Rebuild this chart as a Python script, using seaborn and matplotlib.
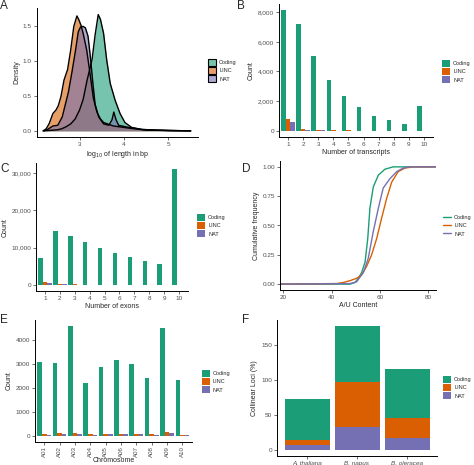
import matplotlib
matplotlib.use('Agg')
import matplotlib.pyplot as plt
import seaborn as sns
import pandas as pd
from matplotlib.patches import Patch
from matplotlib.lines import Line2D
from matplotlib.colors import to_rgba
from matplotlib.ticker import FuncFormatter

tipos = ['Coding', 'LINC', 'NAT']
cores = {'Coding': '#1B9E77', 'LINC': '#D95F02', 'NAT': '#7570B3'}

# A - densidade do comprimento (log10 bp)
coding_x = [2.18, 2.3, 2.5, 2.6, 2.7, 2.8, 2.9, 3.0, 3.08, 3.17, 3.28, 3.35, 3.42, 3.47,
            3.54, 3.61, 3.69, 3.8, 3.91, 4.02, 4.17, 4.4, 4.7, 5.0, 5.5]
coding_d = [0.0, 0.005, 0.015, 0.03, 0.06, 0.1, 0.17, 0.3, 0.45, 0.73, 1.02, 1.38, 1.67, 1.6,
            1.4, 1.02, 0.68, 0.44, 0.25, 0.12, 0.05, 0.02, 0.01, 0.005, 0.0]
linc_x = [2.18, 2.25, 2.32, 2.4, 2.47, 2.52, 2.58, 2.65, 2.73, 2.8, 2.87, 2.94, 2.98, 3.03,
          3.08, 3.16, 3.24, 3.31, 3.39, 3.47, 3.54, 3.76, 4.1, 4.5, 5.0, 5.5]
linc_d = [0.0, 0.03, 0.11, 0.25, 0.3, 0.36, 0.49, 0.73, 0.88, 1.16, 1.5, 1.65, 1.6, 1.52,
          1.4, 1.16, 0.8, 0.47, 0.27, 0.17, 0.12, 0.07, 0.04, 0.01, 0.005, 0.0]
nat_x = [2.2, 2.28, 2.4, 2.51, 2.61, 2.75, 2.83, 2.91, 2.97, 3.02, 3.08, 3.13, 3.19, 3.24,
         3.3, 3.35, 3.43, 3.54, 3.66, 3.73, 3.77, 3.82, 3.88, 4.1, 4.4, 5.0, 5.5]
nat_d = [0.0, 0.02, 0.07, 0.08, 0.2, 0.56, 0.85, 1.16, 1.42, 1.49, 1.5, 1.48, 1.36, 1.08,
         0.68, 0.38, 0.2, 0.1, 0.08, 0.16, 0.27, 0.16, 0.08, 0.05, 0.02, 0.005, 0.0]

# B - numero de transcritos
transcritos = [str(i) for i in range(1, 11)]
trans_coding = [8150, 7200, 5060, 3390, 2310, 1620, 1010, 710, 470, 1690]
trans_linc = [820, 140, 50, 20, 12, 8, 5, 5, 4, 4]
trans_nat = [610, 70, 25, 10, 6, 4, 3, 2, 2, 2]

# C - numero de exoes
exoes = [str(i) for i in range(1, 11)]
exon_coding = [7300, 14500, 13200, 11500, 10000, 8600, 7600, 6400, 5600, 31000]
exon_linc = [800, 450, 200, 120, 80, 50, 30, 15, 10, 10]
exon_nat = [550, 450, 180, 110, 70, 40, 20, 10, 8, 8]

# D - frequencia acumulada do conteudo A/U
au_coding_x = [18.6, 47.6, 49.6, 51.0, 52.4, 53.8, 54.9, 55.8, 57.2, 59.3, 62.0, 65.4, 83.0]
au_coding_y = [0.0, 0.0, 0.014, 0.05, 0.1, 0.19, 0.39, 0.65, 0.83, 0.93, 0.98, 1.0, 1.0]
au_linc_x = [18.6, 42.1, 44.8, 47.6, 50.3, 52.4, 54.4, 56.5, 58.6, 60.6, 62.7, 64.8, 67.5,
             70.3, 73.8, 83.0]
au_linc_y = [0.0, 0.005, 0.014, 0.03, 0.05, 0.08, 0.15, 0.25, 0.39, 0.56, 0.73, 0.87, 0.96,
             0.99, 1.0, 1.0]
au_nat_x = [18.6, 47.6, 50.3, 53.1, 55.1, 57.2, 59.3, 61.3, 64.1, 66.9, 69.6, 72.3, 83.0]
au_nat_y = [0.0, 0.005, 0.02, 0.1, 0.22, 0.45, 0.65, 0.82, 0.9, 0.96, 0.99, 1.0, 1.0]

# E - cromossomos
cromossomos = ['A01', 'A02', 'A03', 'A04', 'A05', 'A06', 'A07', 'A08', 'A09', 'A10']
crom_coding = [3090, 3020, 4590, 2200, 2880, 3150, 2990, 2400, 4490, 2320]
crom_linc = [100, 120, 140, 80, 100, 90, 100, 70, 160, 30]
crom_nat = [60, 90, 80, 60, 80, 70, 70, 60, 110, 60]

# F - loci colineares
especies = ['A. thaliana', 'B. napus', 'B. oleracea']
col_coding = [59, 80, 70]
col_linc = [6, 64, 28]
col_nat = [7, 33, 17]

sns.set_style('ticks')
plt.rcParams['font.family'] = ['Liberation Sans', 'DejaVu Sans']

W, H = 474, 465
fig = plt.figure(figsize=(W / 100, H / 100), dpi=100)


def eixo(x0, x1, ytop, ybot):
    return fig.add_axes([x0 / W, 1 - ybot / H, (x1 - x0) / W, (ybot - ytop) / H])


def estilo(ax, xlabel, ylabel):
    sns.despine(ax=ax)
    for s in ['left', 'bottom']:
        ax.spines[s].set_linewidth(0.7)
        ax.spines[s].set_color('black')
    ax.tick_params(length=2, width=0.5, color='#333333', labelsize=4.6,
                   labelcolor='#4d4d4d', pad=1.5)
    ax.set_xlabel(xlabel, fontsize=5.0, labelpad=1.5)
    ax.set_ylabel(ylabel, fontsize=5.0, labelpad=2)
    ax.grid(False)


def legenda(ax, x, y, tipo='barra'):
    if tipo == 'linha':
        handles = [Line2D([0], [0], color=cores[t], lw=1.0) for t in tipos]
    elif tipo == 'dens':
        handles = [Patch(facecolor=to_rgba(cores[t], 0.6), edgecolor='black', linewidth=0.8)
                   for t in tipos]
    else:
        handles = [Patch(facecolor=cores[t], edgecolor='none') for t in tipos]
    ax.legend(handles, tipos, loc='upper left', bbox_to_anchor=(x / W, 1 - y / H),
              bbox_transform=fig.transFigure, frameon=False, fontsize=4.0,
              handlelength=1.5, handleheight=1.5, labelspacing=0.25,
              handletextpad=0.5, borderpad=0, borderaxespad=0)


def barras(ax, cats, coding, linc, nat):
    df = pd.DataFrame({
        'cat': cats * 3,
        'Tipo': [t for t in tipos for _ in cats],
        'valor': coding + linc + nat,
    })
    sns.barplot(data=df, x='cat', y='valor', hue='Tipo', order=cats, hue_order=tipos,
                palette=cores, width=0.9, saturation=1, errorbar=None, linewidth=0,
                legend=False, ax=ax)
    m = max(coding)
    ax.set_ylim(-0.05 * m, 1.05 * m)
    ax.set_xlim(-0.6, len(cats) - 0.4)


milhar = FuncFormatter(lambda v, p: f'{v:,.0f}')

# A
axA = eixo(36.7, 198, 8, 136.7)
for t, xs, ds in [('Coding', coding_x, coding_d), ('LINC', linc_x, linc_d), ('NAT', nat_x, nat_d)]:
    axA.fill_between(xs, ds, color=cores[t], alpha=0.6, linewidth=0)
    sns.lineplot(x=xs, y=ds, color='black', lw=1.0, sort=False, estimator=None, ax=axA)
axA.set_xlim(2.035, 5.665)
axA.set_ylim(-0.084, 1.764)
axA.set_xticks([3, 4, 5])
axA.set_yticks([0, 0.5, 1.0, 1.5])
axA.yaxis.set_major_formatter(FuncFormatter(lambda v, p: f'{v:.1f}'))
estilo(axA, r'log$_{10}$ of length in bp', 'Density')
legenda(axA, 208, 59, 'dens')

# B
axB = eixo(279, 433, 4, 136.7)
barras(axB, transcritos, trans_coding, trans_linc, trans_nat)
axB.set_yticks([0, 2000, 4000, 6000, 8000])
axB.yaxis.set_major_formatter(milhar)
estilo(axB, 'Number of transcripts', 'Count')
legenda(axB, 442, 60)

# C
axC = eixo(36, 188, 163.3, 291)
barras(axC, exoes, exon_coding, exon_linc, exon_nat)
axC.set_yticks([0, 10000, 20000, 30000])
axC.yaxis.set_major_formatter(milhar)
estilo(axC, 'Number of exons', 'Count')
legenda(axC, 197, 214)

# D
axD = eixo(280, 435.7, 161, 290)
for t, xs, ys in [('Coding', au_coding_x, au_coding_y), ('LINC', au_linc_x, au_linc_y),
                  ('NAT', au_nat_x, au_nat_y)]:
    sns.lineplot(x=xs, y=ys, color=cores[t], lw=1.0, sort=False, estimator=None, ax=axD)
axD.set_xlim(18.6, 83)
axD.set_ylim(-0.05, 1.05)
axD.set_xticks([20, 40, 60, 80])
axD.set_yticks([0, 0.25, 0.5, 0.75, 1.0])
axD.yaxis.set_major_formatter(FuncFormatter(lambda v, p: f'{v:.2f}'))
estilo(axD, 'A/U Content', 'Cumulative frequency')
legenda(axD, 443, 214, 'linha')

# E
axE = eixo(35, 191.7, 320, 441.5)
barras(axE, cromossomos, crom_coding, crom_linc, crom_nat)
axE.set_yticks([0, 1000, 2000, 3000, 4000])
estilo(axE, 'Chromosome', 'Count')
axE.tick_params(axis='x', labelrotation=90, pad=1, labelsize=4.4)
axE.xaxis.labelpad = 0.3
legenda(axE, 201.7, 370)

# F - barras empilhadas
axF = eixo(277, 437, 320, 455.7)
total = [a + b + c for a, b, c in zip(col_coding, col_linc, col_nat)]
meio = [b + c for b, c in zip(col_linc, col_nat)]
for alturas, t in [(total, 'Coding'), (meio, 'LINC'), (col_nat, 'NAT')]:
    sns.barplot(x=especies, y=alturas, color=cores[t], width=0.9, saturation=1,
                linewidth=0, errorbar=None, ax=axF)
m = max(total)
axF.set_ylim(-0.05 * m, 1.05 * m)
axF.set_xlim(-0.6, 2.6)
axF.set_yticks([0, 50, 100, 150])
estilo(axF, '', 'Collinear Loci (%)')
for lab in axF.get_xticklabels():
    lab.set_fontstyle('italic')
legenda(axF, 443, 376)

for letra, x, y in [('A', 0, 0), ('B', 237, 0), ('C', 0, 163), ('D', 242, 163),
                    ('E', 0, 314), ('F', 242, 314)]:
    fig.text(x / W, 1 - y / H, letra, fontsize=8.5, va='top', ha='left')

fig.savefig('out.png', dpi=100)
